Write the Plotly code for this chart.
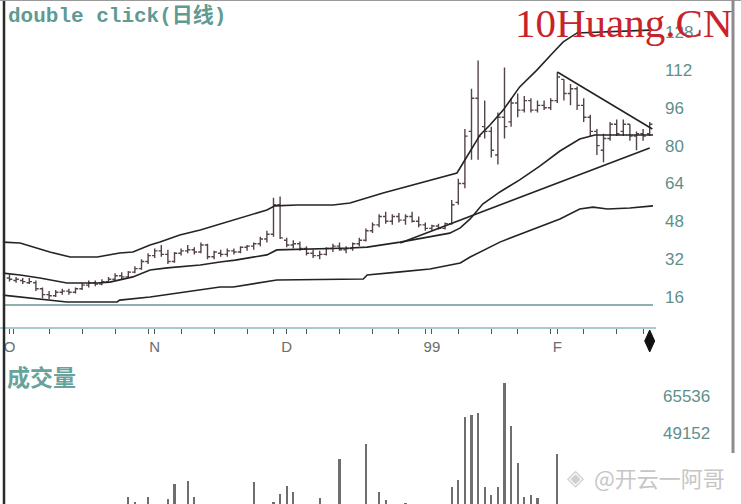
import plotly.graph_objects as go

W, H = 741, 504

# ---------------- data (bar index 0 = 1998-10-01 ... 97 = 1999-02-22) ----------------
opens = [24, 23, 23, 22, 22, 19.5, 17, 16.5, 18, 18.5, 18, 19.5, 21, 22, 21.5, 22.5, 23.5, 25, 24.5, 26.5,
         28, 31, 33.5, 35.5, 34, 31, 34.5, 35.5, 36, 35, 38, 33, 34.5, 34, 35.5, 35, 37, 37.5, 38.5, 40.5,
         42.5, 55, 40, 38, 38.5, 36.5, 34.5, 33.5, 34, 36.5, 37.5, 36, 36.5, 38.5, 40, 44, 46.5, 50, 48, 50,
         48.5, 50, 48, 46.5, 45, 46, 45, 47, 56, 64, 86, 100, 88, 86, 76, 92, 90, 98, 95, 99,
         95, 97, 96, 99, 108, 102, 104, 97, 92, 86, 78, 83, 89, 86, 89, 84, 85, 85]
highs = [25.5, 24.5, 24, 24, 23, 20, 18.5, 19, 19.5, 19.5, 20, 22, 23, 23, 23.5, 24.5, 26, 26.5, 27, 29,
         32, 34.5, 36.5, 38, 36, 35, 36.5, 38, 37, 39, 38.5, 35.5, 36, 36.5, 36.5, 37.5, 38, 39, 41.5, 44,
         58, 58.5, 41, 40, 39.5, 37.5, 36, 35.5, 37, 38.5, 39, 37.5, 39, 41, 45, 47.5, 51, 52, 51, 51.5,
         51, 52, 50, 47.5, 46.5, 47, 47.5, 57, 66, 87, 104, 116, 99, 88, 94, 113, 100, 102, 101, 100,
         99, 99, 100, 111, 108, 106, 105, 100, 93, 87, 85, 90, 91, 91, 89, 86, 87, 90]
lows = [22.5, 22, 21.5, 21.5, 18.5, 15.5, 15, 16, 17, 17, 17.5, 19, 20, 20.5, 21, 22, 23, 23.5, 24, 26,
        27.5, 30, 32.5, 33, 30, 30.5, 33.5, 34.5, 34, 34.5, 32, 32, 33, 33, 34, 34.5, 35.5, 36, 37.5, 39,
        41.5, 40.5, 37, 36.5, 35.5, 33.5, 32.5, 32, 33.5, 35, 35.5, 34.5, 35.5, 37.5, 39.5, 43, 45.5, 47, 46.5, 47.5,
        46.5, 47.5, 45.5, 44, 44, 44.5, 44.5, 46.5, 55, 62, 74, 74, 83, 75, 72, 83, 88, 92, 94, 94,
        94, 95, 95, 98, 99, 97, 95, 90, 84, 76, 73, 82, 84, 84, 82, 78, 82, 84]
closes = [23.5, 23.5, 22.5, 22.5, 19.5, 17, 16.5, 18, 18.5, 18, 19.5, 21, 22, 21.5, 22.5, 23.5, 25, 24.5, 26.5, 28,
          31, 33.5, 35.5, 34, 31, 34.5, 35.5, 36, 35, 38, 33, 35, 34, 35.5, 35, 37, 37.5, 38.5, 40.5, 42.5,
          55, 41, 38, 38.5, 36.5, 34.5, 33.5, 34, 36.5, 37.5, 36, 36.5, 38.5, 40, 44, 46.5, 50, 48, 50, 48.5,
          50, 48, 46.5, 45, 46, 45, 47, 55, 64, 84, 100, 84, 86, 78, 92, 88, 98, 95, 99, 95,
          97, 96, 99, 109, 102, 104, 97, 92, 86, 80, 83, 89, 85, 89, 84, 85, 84, 89]
volume = [9000, 11000, 8000, 10000, 12000, 9500, 14000, 13000, 10500, 9000, 11500, 12500, 10000, 9800, 13500,
          12000, 15000, 14500, 20813, 18599, 13000, 20813, 15500, 16000, 19928, 26570, 14000, 27898, 20813, 15000,
          13000, 12000, 16000, 14500, 12500, 15500, 16500, 27455, 17000, 16000, 18599, 22142, 25684, 23027, 15000,
          13500, 12000, 20370, 14000, 15500, 37640, 16000, 13000, 17000, 44282, 15500, 23027, 19485, 14500, 16000,
          18156, 12000, 11000, 13500, 14000, 12500, 15000, 25241, 28341, 56237, 57123, 58008, 25241, 21699, 25241,
          71292, 52252, 35868, 20813, 21500, 20400, 16000, 14500, 40000, 18000, 24000, 21000, 19000, 30000, 35000,
          32000, 23000, 20000, 17000, 22000, 26000, 19500, 21000]
bars = list(range(len(closes)))

# indicator curves (bar index, price)
upper_i = [-1, 1.6, 6.1, 9.2, 13.3, 16.7, 18.7, 21.3, 22.8, 25.8, 28.9, 33.9, 39.0, 40.2, 43.6, 49.0, 51.6,
           56.6, 62.2, 67.8, 69.0, 70.1, 71.3, 72.8, 74.8, 77.3, 79.9, 82.3, 83.9, 86.0, 90.5, 97.0]
upper_p = [39.2, 38.8, 35.0, 32.9, 32.9, 34.6, 35.0, 38.0, 39.2, 42.2, 44.3, 48.5, 52.8, 54.5, 54.9, 54.9, 55.7,
           60.0, 64.2, 68.4, 73.9, 79.0, 84.5, 88.7, 95.0, 104.8, 111.9, 119.1, 123.8, 127.6, 128.0, 128.8]
mid_i = [-1, 1.6, 4.6, 8.7, 13.3, 15.2, 18.7, 21.3, 23.9, 28.9, 31.9, 34.2, 39.0, 40.5, 51.6, 54.2, 59.2,
         63.7, 66.7, 68.3, 69.8, 71.7, 74.3, 77.3, 80.4, 83.4, 86.4, 88.7, 97.5]
mid_p = [26.1, 25.3, 24.0, 21.9, 21.9, 22.3, 24.5, 27.4, 28.3, 29.5, 30.8, 31.6, 33.8, 35.9, 36.7, 37.1, 39.2,
         41.4, 43.0, 45.2, 49.0, 55.3, 60.4, 65.5, 71.4, 77.7, 82.8, 84.5, 84.5]
lower_i = [-1, 1.6, 5.1, 8.7, 16.3, 16.7, 21.3, 26.3, 31.9, 33.9, 40.5, 53.6, 54.2, 59.2, 63.7, 68.3, 69.8,
           74.3, 78.9, 83.4, 86.4, 88.4, 90.6, 94.0, 97.5]
lower_p = [16.8, 16.0, 15.2, 13.9, 13.9, 14.7, 16.0, 18.1, 20.2, 20.2, 23.2, 23.6, 25.3, 26.6, 27.8, 30.4, 32.9,
           39.2, 44.3, 49.0, 53.2, 54.0, 53.2, 53.6, 54.5]
support_i = [59.2, 97.0]
support_p = [38.8, 79.0]
resist_i = [83.0, 97.4]
resist_p = [111.1, 87.0]
base_i = [-1, 97.5]
base_p = [12.6, 12.6]

price_ticks = [16, 32, 48, 64, 80, 96, 112, 128]
vol_ticks = [49152, 65536]
vol_labels = ["49152", "65536"]
week_ticks = [0, 0.55, 6, 11, 16, 21, 22, 26, 31, 36, 40, 42, 45, 50, 55, 59, 63, 64, 68, 73, 77, 82, 83, 87, 92, 96]
month_labels = {0: "O", 22: "N", 42: "D", 64: "99", 83: "F"}
last_bar = 97

# ---------------- layout helpers (pixel geometry) ----------------
def px(x):
    return x / W

def py(y):
    return 1 - y / H

X_RIGHT = 656
PX_PER_BAR = 6.6
x_range = [(-9.5) / PX_PER_BAR, (X_RIGHT - 9.5) / PX_PER_BAR]
price_range = [16 - (327 - 297) / 2.366, 16 + 297 / 2.366]
vol_range = [65536 - (504 - 396) * 16384 / 37, 65536 + (396 - 360) * 16384 / 37]

BAR = "#55434a"
LINE = "#242424"
TEAL = "#5e908b"

fig = go.Figure()
fig.add_trace(go.Ohlc(x=bars, open=opens, high=highs, low=lows, close=closes,
                      increasing=dict(line=dict(color=BAR, width=1.4)),
                      decreasing=dict(line=dict(color=BAR, width=1.4)),
                      tickwidth=0.42, showlegend=False, hoverinfo="skip",
                      xaxis="x", yaxis="y"))
for xi, yi in [(upper_i, upper_p), (mid_i, mid_p), (lower_i, lower_p),
               (support_i, support_p), (resist_i, resist_p)]:
    fig.add_trace(go.Scatter(x=xi, y=yi, mode="lines", line=dict(color=LINE, width=1.6),
                             showlegend=False, hoverinfo="skip", xaxis="x", yaxis="y"))
fig.add_trace(go.Scatter(x=base_i, y=base_p, mode="lines", line=dict(color="#8fb0ae", width=2),
                         showlegend=False, hoverinfo="skip", xaxis="x", yaxis="y"))
fig.add_trace(go.Bar(x=bars, y=volume, width=0.32, marker=dict(color="#6e6e6e", line=dict(width=0)),
                     showlegend=False, hoverinfo="skip", xaxis="x2", yaxis="y2"))

ticktext = [month_labels.get(t, "") if float(t).is_integer() else "" for t in week_ticks]

fig.update_layout(
    width=W, height=H, margin=dict(l=0, r=0, t=0, b=0),
    paper_bgcolor="white", plot_bgcolor="white", bargap=0,
    xaxis=dict(domain=[0, px(X_RIGHT)], range=x_range, anchor="y",
               showgrid=False, zeroline=False, showline=True, linecolor="#a6cccb", linewidth=1.5,
               ticks="outside", ticklen=5, tickwidth=1, tickcolor="#555555",
               tickmode="array", tickvals=week_ticks, ticktext=ticktext,
               tickfont=dict(family="Liberation Sans Narrow, Liberation Sans", size=15, color="#6c6c6c"),
               ticklabelstandoff=0,
               rangeslider=dict(visible=False), fixedrange=True),
    yaxis=dict(domain=[py(327), 1], range=price_range, anchor="x", side="right",
               showgrid=False, zeroline=False, showline=False, ticks="",
               tickmode="array", tickvals=price_ticks,
               tickfont=dict(family="Liberation Sans", size=17, color=TEAL),
               ticklabelstandoff=8, fixedrange=True),
    xaxis2=dict(domain=[0, px(X_RIGHT)], range=x_range, anchor="y2",
                showgrid=False, zeroline=False, showline=False, ticks="", showticklabels=False,
                fixedrange=True),
    yaxis2=dict(domain=[0, py(360)], range=vol_range, anchor="x2", side="right",
                showgrid=False, zeroline=False, showline=False, ticks="",
                tickmode="array", tickvals=vol_ticks, ticktext=vol_labels,
                tickfont=dict(family="Liberation Sans", size=17, color=TEAL),
                ticklabelstandoff=6, fixedrange=True),
)

# end-of-data diamond marker under the last bar (x in bar units, y in page fraction)
dx = 5 / PX_PER_BAR
diamond = (f"M {last_bar - dx} {py(341)} L {last_bar} {py(330)} "
           f"L {last_bar + dx} {py(341)} L {last_bar} {py(352)} Z")

shapes = [
    dict(type="path", xref="x", yref="paper", path=diamond,
         fillcolor="#111111", line=dict(color="#111111", width=1)),
    dict(type="line", xref="paper", yref="paper", x0=px(4), x1=px(4), y0=0, y1=1,
         line=dict(color="#2a2a2a", width=2.5)),
    dict(type="line", xref="paper", yref="paper", x0=0, x1=1, y0=py(0.5), y1=py(0.5),
         line=dict(color="#9a9a9a", width=1)),
    dict(type="line", xref="paper", yref="paper", x0=px(733), x1=px(733), y0=py(453), y1=1,
         line=dict(color="#8c8c8c", width=3)),
    dict(type="rect", xref="paper", yref="paper", x0=px(562), x1=1, y0=0, y1=py(453),
         fillcolor="white", line=dict(width=0), layer="above"),
]
fig.update_layout(shapes=shapes)

annotations = [
    dict(text="<b>double click(日线)</b>", x=px(6), y=py(16), xanchor="left", yanchor="middle",
         font=dict(family="Liberation Mono, Noto Sans CJK SC", size=21, color="#5f9a93")),
    dict(text="<b>成交量</b>", x=px(5), y=py(376), xanchor="left", yanchor="middle",
         font=dict(family="Noto Sans CJK SC", size=23, color="#67a39c")),
    dict(text="10Huang.CN", x=px(513), y=py(23), xanchor="left", yanchor="middle",
         font=dict(family="Liberation Serif", size=41, color="#c9222b")),
    dict(text="◈", x=px(575), y=py(477), xanchor="center", yanchor="middle",
         font=dict(family="DejaVu Sans", size=22, color="#cfcfcf")),
    dict(text="@开云一阿哥", x=px(592), y=py(477), xanchor="left", yanchor="middle",
         font=dict(family="Noto Sans CJK SC", size=22, color="#c6c6c6")),
]
for a in annotations:
    a.update(xref="paper", yref="paper", showarrow=False)
fig.update_layout(annotations=annotations)

fig.write_html("out.html", config={"displayModeBar": False},
               post_script="document.body.style.margin='0';document.body.style.padding='0';")
